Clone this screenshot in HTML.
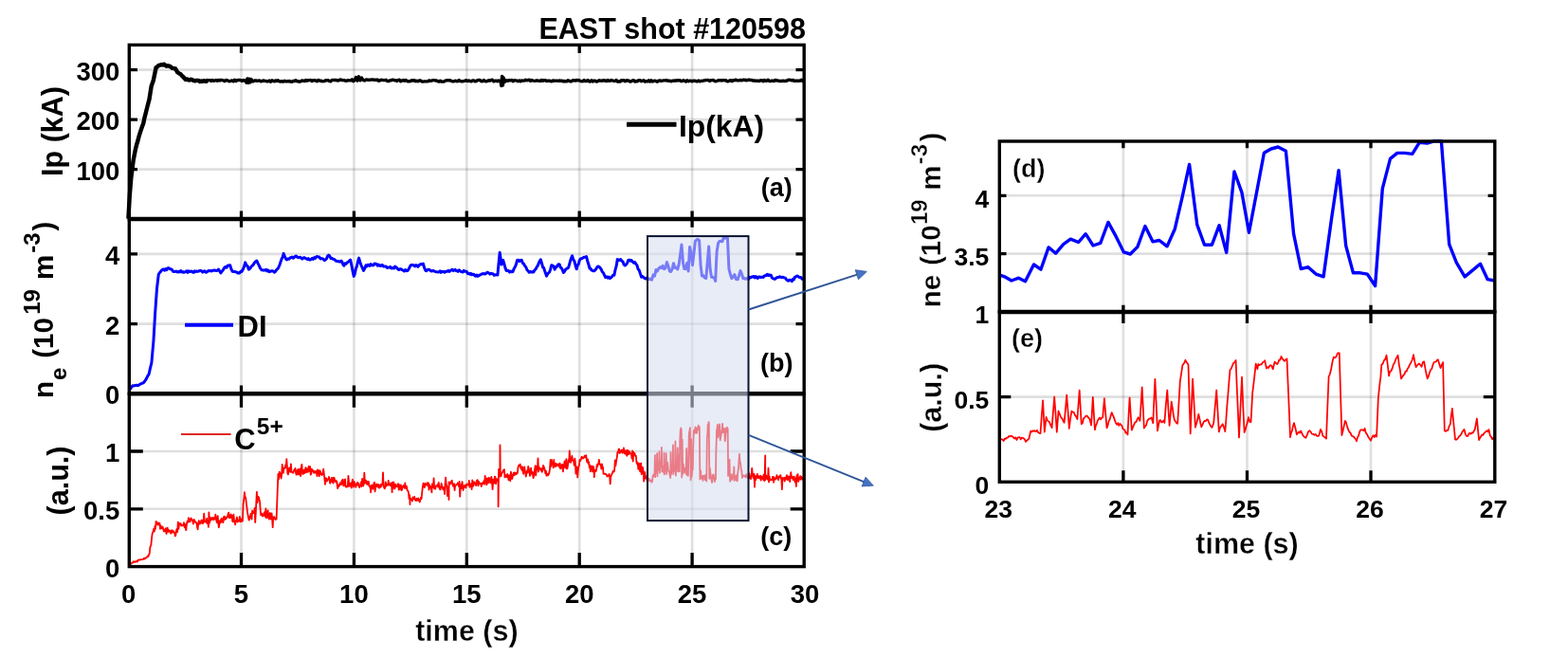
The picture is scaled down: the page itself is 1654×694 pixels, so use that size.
<!DOCTYPE html>
<html><head><meta charset="utf-8"><title>EAST shot #120598</title>
<style>
html,body{margin:0;padding:0;background:#fff;}
svg{display:block;}
text{font-family:'Liberation Sans',Arial,Helvetica,sans-serif;font-weight:bold;fill:#000;}
.th{stroke:#fff;stroke-width:0.35px;}
</style></head>
<body>
<svg width="1654" height="694" viewBox="0 0 1654 694">
<rect width="1654" height="694" fill="#fff"/>
<g stroke="#262626" stroke-opacity="0.15" stroke-width="2.6"><line x1="254.5" y1="47.4" x2="254.5" y2="231.1"/><line x1="373.4" y1="47.4" x2="373.4" y2="231.1"/><line x1="492.3" y1="47.4" x2="492.3" y2="231.1"/><line x1="611.2" y1="47.4" x2="611.2" y2="231.1"/><line x1="730.1" y1="47.4" x2="730.1" y2="231.1"/><line x1="136.3" y1="178.6" x2="848.2" y2="178.6"/><line x1="136.3" y1="126.1" x2="848.2" y2="126.1"/><line x1="136.3" y1="73.6" x2="848.2" y2="73.6"/></g>
<g stroke="#262626" stroke-opacity="0.15" stroke-width="2.6"><line x1="254.5" y1="231.1" x2="254.5" y2="415.2"/><line x1="373.4" y1="231.1" x2="373.4" y2="415.2"/><line x1="492.3" y1="231.1" x2="492.3" y2="415.2"/><line x1="611.2" y1="231.1" x2="611.2" y2="415.2"/><line x1="730.1" y1="231.1" x2="730.1" y2="415.2"/><line x1="136.3" y1="341.6" x2="848.2" y2="341.6"/><line x1="136.3" y1="267.9" x2="848.2" y2="267.9"/></g>
<g stroke="#262626" stroke-opacity="0.15" stroke-width="2.6"><line x1="254.5" y1="415.2" x2="254.5" y2="597.6"/><line x1="373.4" y1="415.2" x2="373.4" y2="597.6"/><line x1="492.3" y1="415.2" x2="492.3" y2="597.6"/><line x1="611.2" y1="415.2" x2="611.2" y2="597.6"/><line x1="730.1" y1="415.2" x2="730.1" y2="597.6"/><line x1="136.3" y1="536.8" x2="848.2" y2="536.8"/><line x1="136.3" y1="476" x2="848.2" y2="476"/></g>
<polyline fill="none" stroke="#000" stroke-width="4.4" stroke-linejoin="round" points="135.4,230.5 136.8,205.8 138.3,187.6 140.6,169.4 142.9,157.5 144.2,152.2 145.4,148.5 146.7,143.3 148.2,138.6 149.7,134.3 151.2,130.3 152.4,124.4 153.6,119.9 154.8,115 156.2,109.5 157.5,104.6 159.7,90.7 161.9,84.4 163.2,78 164.6,71.3 165.9,70.6 167.3,69.1 168.9,68.6 170.5,68.2 171.8,68.5 173.2,67.8 175.4,69.7 177,69.3 178.6,69.6 180.2,70.6 181.9,71.9 183.5,72.2 185.1,72.5 187.3,76.3 188.9,77.4 190.5,78.2 192.1,80.1 193.7,81.5 195.9,84.1 197.3,83.4 198.8,84.4 200.2,84.5 201.5,83.6 202.9,84.3 204.2,84.9 205.6,85.3 206.9,84.9 208.2,84.9 209.5,85 210.8,86.1 212.1,85.5 213.4,85.8 214.7,85.2 216.1,85.5 217.4,85.9 218.7,84.9 220,85.6"/>
<polyline fill="none" stroke="#000" stroke-width="3.4" stroke-linejoin="round" points="220,84.9 221.3,84.6 222.6,85.4 223.9,84.5 225.2,85.2 226.6,85 227.9,84.5 229.2,85.2 230.5,84.4 231.8,85 233.1,84.4 234.4,84.5 235.7,85 237,85.6 238.3,84.5 239.7,84.7 241,85.3 242.3,85.8 243.6,85.2 244.9,84.9 246.2,85.8 247.5,84.3 248.8,85.6 250.1,84.7 251.4,84.5 252.8,84.4 254.1,84.7 255.4,85.5 256.7,84.5 258,85.1 259,85 260,87.3 261,83 262,87.5 263,83.2 264,86.8 265,83.6 266.3,85.8 267.2,85.7 268.5,85 269.8,84.9 271.1,85.3 272.4,85.1 273.8,84.9 275.1,85.7 276.4,85.6 277.7,84.9 279,85.4 280.3,85.4 281.6,85.9 282.9,85.7 284.2,85 285.6,86.2 286.9,84.8 288.2,85.3 289.5,85.9 290.8,84.9 292.1,85.5 293.4,84.8 294.8,85.8 296.1,86 297.4,85.7 298.7,86.2 300,85.3 301.3,85.9 302.6,85.7 304,85.7 305.3,85.5 306.6,86.1 307.9,86.2 309.2,85.4 310.6,85.7 311.9,84.7 313.2,85.7 314.5,85.6 315.9,86.2 317.2,85.9 318.5,85 319.8,85.1 321.1,85.6 322.5,84.5 323.8,85.2 325.1,84.7 326.4,84.6 327.8,84.5 329.1,85.6 330.4,84.6 331.7,84.8 333,85 334.4,85.7 335.7,84.4 337,85 338.3,85.2 339.6,85.7 341,85.6 342.3,85.6 343.6,84.7 344.9,84.9 346.2,84.7 347.6,85.6 348.9,85.7 350.2,84.4 351.5,84.4 352.9,84.5 354.2,84.4 355.5,84.8 356.8,85 358.1,84.4 359.5,84 360.8,84.6 362.1,84.6 363.4,84.8 364.8,85.4 366.1,85 367.4,84.7 368.7,84.9 370,84.9 371.4,83.9 372.7,85.7 374,84.8 375.5,81.5 377,85.2 378.5,80.8 380,84.8 381.5,82 383,84.5 384.5,85 386.3,83.9 387.6,84.2 388.9,84.1 390.2,84.4 391.5,84 392.8,83.9 394.1,84.2 395.4,84.1 396.7,84.5 398,84 399.3,85.4 400.6,85 401.9,84.2 403.2,84.4 404.5,84.6 405.8,84.6 407.1,84.3 408.4,85.4 409.7,85.7 411,84.9 412.3,84.9 413.6,84.3 414.9,84.3 416.2,84.7 417.5,84.6 418.8,85.5 420.1,84.5 421.4,84.3 422.7,85.8 424,85.1 425.3,84.5 426.6,85.2 427.9,84.4 429.2,85.2 430.5,85.9 431.8,85.8 433.1,85.5 434.4,84.8 435.7,85 437,84.7 438.3,85.7 439.6,85.3 440.9,85.7 442.2,85 443.5,84.9 444.8,85.8 446.1,86.1 447.4,85.9 448.7,85.9 450,85.9 451.3,85.8 452.6,84.9 453.9,85.4 455.2,85.1 456.6,84.6 457.9,84.6 459.2,85 460.5,85 461.8,85.6 463.1,86.1 464.4,85.2 465.7,86 467,86.1 468.3,86 469.7,85.1 471,84.8 472.3,84.8 473.6,84.8 474.9,84.8 476.2,85.5 477.5,85.9 478.8,85.8 480.1,85.2 481.4,85.5 482.8,85.7 484.1,84.6 485.4,85.5 486.7,85.9 488,85.7 489.3,85.6 490.6,85.2 491.9,84.7 493.2,85.6 494.6,84.9 495.9,85.6 497.2,85.9 498.5,85 499.8,85 501.1,85.8 502.4,85.5 503.7,84.6 505,84.5 506.3,84.5 507.7,85.7 509,85.6 510.3,84.5 511.6,85.6 512.9,85.8 514.2,85.3 515.5,84.8 516.8,85.1 518.1,84.5 519.4,84.3 520.8,85.8 522.1,85.3 523.4,85.1 524.7,85.7 526,84.9 527.3,85.6 528,85.5 528.8,90.5 529.6,80.5 530.4,90 531.2,82 532.2,86.5 534,84.8 535.5,85.3 537,84.7 538.5,84.9 540,84.4 541.3,85.7 542.6,84.8 543.9,84.9 545.2,85.1 546.6,85.7 547.9,84.9 549.2,85.7 550.5,85 551.8,85.1 553.1,85.1 554.4,84.3 555.7,84.9 557,84.5 558.4,84.3 559.7,85.5 561,84.5 562.3,85 563.6,85.4 564.9,85.2 566.2,84.8 567.5,85.1 568.9,85.2 570.2,85.5 571.5,84.4 572.8,85.2 574.1,84.7 575.4,84.7 576.7,85.5 578,85.1 579.3,85.2 580.7,85.5 582,85.8 583.3,85 584.6,85.3 585.9,85.1 587.2,85.1 588.5,85.4 589.8,85 591.1,85.2 592.5,85.1 593.8,85.8 595.1,85.5 596.4,85.7 597.7,85.9 599,84.8 600.3,85.2 601.6,85.9 603,85.7 604.3,84.6 605.6,84.6 606.9,85.1 608.2,84.5 609.5,84.8 610.8,84.5 612.1,85.5 613.4,85.6 614.8,85.8 616.1,84.6 617.4,85.5 618.7,85.5 620,84.6 621.3,85.8 622.6,86 623.9,84.8 625.2,85.9 626.6,85.1 627.9,85.2 629.2,86 630.5,85.8 631.8,84.7 633.1,85.1 634.4,85.3 635.7,85 637,84.8 638.4,85 639.7,85.6 641,84.5 642.3,85.4 643.6,85.2 644.9,84.5 646.2,85 647.5,85.5 648.9,85.3 650.2,84.6 651.5,86.1 652.8,85.8 654.1,86.1 655.4,84.7 656.7,85 658,84.6 659.3,85.8 660.7,85 662,84.8 663.3,85.2 664.6,86 665.9,85.9 667.2,85 668.5,84.8 669.8,86.1 671.1,85.5 672.5,85.7 673.8,84.7 675.1,84.7 676.4,85.7 677.7,85.3 679,84.7 680.3,86.1 681.6,85.6 683,85.9 684.3,84.8 685.6,86 686.9,84.8 688.2,86 689.5,85.4 690.8,85.2 692.1,85.6 693.4,86.2 694.8,85.1 696.1,84.9 697.4,85.5 698.7,85.1 700,84.9 701.3,84.9 702.6,84.8 703.9,85 705.2,85.2 706.6,85.1 707.9,85.9 709.2,85.1 710.5,85.4 711.8,84.9 713.1,85.2 714.4,84.6 715.7,85 717,84.6 718.4,85.7 719.7,85.4 721,84.8 722.3,85.3 723.6,86 724.9,84.7 726.2,85.8 727.5,85.2 728.9,85.3 730.2,85.8 731.5,85.1 732.8,85.3 734.1,85.5 735.4,86 736.7,85 738,85.7 739.3,85.5 740.7,85.4 742,85 743.3,84.9 744.6,84.5 745.9,84.6 747.2,84.5 748.5,85.5 749.8,84.7 751.1,84.6 752.5,84.4 753.8,85.6 755.1,85.7 756.4,85.3 757.7,84.7 759,84.6 760.3,84.7 761.6,85 763,84.5 764.3,84.9 765.6,84.6 766.9,85.7 768.2,85.7 769.5,85.1 770.8,84.6 772.1,85.7 773.4,84.6 774.8,84.7 776.1,84.1 777.4,84.7 778.7,84.9 780,84.9 781.3,84.4 782.6,84.9 783.9,84.1 785.2,84.5 786.6,84.3 787.9,84.8 789.2,84.2 790.5,84.2 791.8,84.6 793.1,84.5 794.4,85.1 795.7,85 797,85.3 798.4,85.2 799.7,85.3 801,85.5 802.3,84.8 803.6,84.7 804.9,85.7 806.2,84.4 807.5,85.3 808.9,85.2 810.2,84.2 811.5,85.5 812.8,85.6 814.1,85.2 815.4,85.3 816.7,85.5 818,84.4 819.3,85 820.7,85 822,85.5 823.3,85.5 824.6,85.5 825.9,85.1 827.2,85.6 828.5,85.3 829.8,85.3 831.2,84.5 832.5,84.2 833.8,84.4 835.1,84.8 836.4,84.4 837.7,85.5 839,85.1 840.3,85.2 841.6,85.2 843,85.3 844.3,85 845.6,84.2 846.9,85.5 848.2,85.4"/>
<polyline fill="none" stroke="#0000ff" stroke-width="3.0" stroke-linejoin="round" points="136,411.8 137.3,410.4 138.5,408.7 139.8,406.7 140.8,407.1 141.8,406.7 142.9,406.4 143.9,406.3 144.9,406.5 145.9,406.4 146.9,405.7 148,405.1 149,404.7 150,404.2 151.1,403.9 152.1,402.9 153.3,401.2 154.6,399.1 155.8,396.5 157,394.9 158.4,388.6 159.9,382.6 160.9,371.2 161.9,360.2 163.6,330.8 165.5,304.2 167.3,289.3 168.3,287.7 169.4,286.6 170.4,285.1 171.5,284.3 172.5,284 173.6,285.1 174.6,283.7 175.7,284.7 176.7,282.9 177.8,282.6 179,283.7 180.2,283.7 181.5,284.6 182.7,286.4 183.7,286.4 184.7,286.4 185.7,286.1 186.7,286.8 187.7,287 188.7,286.3 189.7,286.8 190.7,285.5 191.7,287 192.7,286.6 193.7,287.3 194.8,287.1 195.8,286.3 196.8,285.8 197.9,287.5 198.9,285.9 200,286.5 201.1,286.2 202.1,286.1 203.2,287 204.2,287.4 205.2,285.9 206.3,286.7 207.3,285.9 208.4,286.4 209.5,286.1 210.5,285.6 211.6,285.6 212.6,285.7 213.7,287.1 214.7,286.3 215.8,285.7 216.8,287.1 217.8,287.3 218.9,286.2 219.9,285.6 221,285.7 222,285.5 223.1,286 224.2,285.2 225.2,285.2 226.3,285 227.3,285.3 228.4,285.6 229.4,285.1 230.5,284.1 231.7,286 232.9,288 234.1,286.2 235.4,284.6 236.6,282.5 237.8,281.5 239,282.2 240.2,279.9 241.5,280 242.7,279.7 243.9,283.8 245.2,286.2 246.3,286.4 247.4,286.4 248.5,286.8 249.6,286.9 250.6,288 251.7,287.8 252.8,287.9 253.9,286.3 255,286.4 256.2,284.3 257.5,281.2 258.7,276.9 259.9,279.6 261.2,280.9 262.4,284.1 263.6,283.5 264.8,281.7 266,280.1 267.2,279.4 268.4,277 269.7,275.8 270.9,275 272.1,277.9 273.4,280.4 274.6,283 275.8,284.7 276.8,284.8 277.9,285.2 278.9,284.8 280,285.2 281,284.3 282,286 283.1,285.1 284.1,286.7 285.1,286.3 286.2,285.8 287.2,285.7 288.3,286.1 289.3,287.1 290.5,286.4 291.8,284.4 293,283.4 294,281.7 295,279.2 296.1,276.1 297.1,273.1 298.1,271.3 299.1,267.4 300.4,270.5 301.6,273.2 302.7,273.9 303.8,273 304.9,273.2 306,272.1 307,271.4 308.1,271.1 309.2,272.3 310.3,271.5 311.4,270.4 312.5,270 313.5,271.2 314.6,271.7 315.7,271.4 316.8,271.3 317.9,272.3 318.9,273.1 320,271.9 321,271.6 322.1,272.4 323.1,272.8 324.2,273.5 325.2,272.7 326.3,274 327.3,274.1 328.4,273.2 329.4,272.3 330.4,273.4 331.5,271.7 332.6,272.4 333.6,270.8 334.6,270.4 335.7,271.1 336.8,270.9 337.9,272.9 339,272.7 340.2,272.8 341.3,273.5 342.4,274.6 343.4,273.8 344.5,272.9 345.6,270 346.6,269.1 347.8,270 349,272.7 350.2,272.3 351.4,273.3 352.5,273.5 353.5,274.3 354.6,275.4 355.6,275.6 356.7,275.4 357.8,276.1 358.8,276.1 359.9,275.1 360.9,276.2 361.9,279.1 362.9,280.1 364,277.9 365.1,278.3 366.2,277 367.4,276.1 368.5,275.3 369.6,274.1 370.8,279.4 372,285.6 373.2,291.4 374.3,288.8 375.4,283.2 376.4,281 377.5,275.7 378.6,272.1 379.8,276.5 381.1,280 382.3,282.7 383.5,285.4 384.7,283.2 385.9,279.9 386.9,280.9 387.9,279.3 388.9,279.5 389.9,280.5 391,278.6 392,279.2 393,279.9 394,279.7 395,278.1 396.1,278.2 397.1,278.4 398.2,280.2 399.3,279 400.3,280.2 401.4,280.6 402.5,279.6 403.5,279.6 404.6,281.1 405.8,281 407.1,280.9 408.3,282.4 409.5,282.2 410.5,282.1 411.6,281.4 412.6,282.9 413.6,283.1 414.6,282.4 415.7,283 416.7,281 417.8,281.9 418.8,282.7 419.9,284.1 420.9,284.5 422,283.7 423.1,283.8 424.1,284.6 425.2,285.1 426.4,286 427.6,284.5 428.8,285.7 430,285.6 431,283.9 432.1,282 433.1,279.8 434.2,279.4 435.3,279.6 436.4,279.8 437.6,280.9 438.7,279.6 439.8,280 440.9,281.3 442,279.8 443.1,279 444.2,278.4 445.3,279 446.4,278.1 447.6,282.4 448.8,285.3 449.8,285.7 450.9,284.4 451.9,284.2 452.9,284.4 454,285.4 455,286 456,285.7 457,285.4 458.1,286 459.1,286.5 460.1,286.7 461.1,286.9 462.1,287.1 463.1,286.8 464.1,285.8 465.1,287.3 466.1,286.2 467.1,286.8 468.1,286.5 469.1,287.3 470.1,286.2 471.1,286.4 472.1,286 473.1,285.4 474.1,286.5 475.2,285.5 476.2,284.6 477.2,284.3 478.2,285.6 479.2,284.8 480.2,284.4 481.2,285.7 482.2,285.6 483.2,286.4 484.3,284.8 485.3,285.6 486.3,286.5 487.3,286.7 488.3,287 489.3,285.4 490.3,286.2 491.4,286.2 492.4,286.7 493.4,288.6 494.5,288.2 495.5,289.2 496.6,288.4 497.6,289.8 498.6,289.3 499.7,289.2 500.7,290.6 501.7,291.3 502.8,290 503.8,291.3 504.9,291 506,289.9 507,289.8 508.1,289 509.2,288.8 510.3,288.6 511.3,289 512.4,288.7 513.5,287.5 514.6,287.3 515.7,288.2 516.8,289.1 517.8,288.3 518.9,288.7 520,288.7 521.2,290.3 522.5,290.1 523.7,289.6 524.9,290 526,278.2 527.2,266.2 529,279 530.7,274.5 531.8,278.1 533,282.6 534.1,285.4 535.2,285.4 536.4,285.6 537.5,287.1 538.7,286 539.9,286.7 541,286.5 542.1,283.6 543.3,281.5 544.5,278.7 545.6,274.4 546.8,274.2 547.9,275.5 549.1,274.6 550.2,274.3 551.4,277.6 552.5,278.2 553.7,280.5 554.8,281.7 556,284.7 557.1,285.8 558.2,287.2 559.4,286.5 560.5,287.1 561.7,286.8 562.8,286.9 564,284.8 565.1,283.9 566.3,281.5 567.4,279.9 568.8,276.3 570.3,273.7 571.5,277.6 572.6,281.9 573.6,282.5 574.6,285.6 575.6,288.5 576.6,291.1 578,288.4 579.5,287.2 580.6,284.2 581.8,279.7 582.9,280.2 584.1,280.9 585.2,284.2 586.2,281.8 587.2,281.5 588.3,279.6 589.3,278.7 590.3,279.2 591.3,282.2 592.4,282.8 593.4,284.9 594.4,287.5 595.4,286.5 596.5,284.3 597.5,283.5 598.6,282.9 599.6,282.2 600.6,278.8 601.6,275.1 602.6,272.2 603.6,269.9 604.8,273.7 605.9,275.5 607.1,280 608.2,283.8 609.2,279.8 610.2,278.8 611.2,274.8 612.2,273.2 613.3,272.7 614.3,272.5 615.4,271.5 616.5,271.3 617.5,271.2 618.6,270.6 619.7,275.2 620.9,279 622,283.2 623,283.1 624,285 625,285.5 626,285.7 627,285.7 628.1,284.7 629.1,283 630.2,281.4 631.2,280.9 632.7,282 634.1,283.8 635.2,286.4 636.4,287.7 637.6,290.4 638.7,292.5 639.9,291.7 641,293.1 642.1,292.1 643.3,293.6 644.4,292.9 645.6,291.7 646.8,290 647.9,290.2 649,284.6 650.2,280.4 651.3,273.4 652.4,274.4 653.6,274.4 654.7,273.5 655.9,275.4 657,275.8 658.1,279.1 659.3,279.9 660.4,279.2 661.6,277.5 662.8,274.4 663.9,274.1 665.1,275.3 666.2,274.6 667.4,276.1 668.5,277.3 669.7,276.5 670.8,278.4 672,279.9 673.1,283.8 674.3,285.2 675.4,288.6 676.6,292.2 677.8,291.6 678.9,292.5 680.1,293.7 681.2,294.1 682.5,292.9 683.5,293.5 684.8,294.8 686.2,294.1 687.5,295.2 689.1,289.9 690.5,291.2 692,284.4 693.3,286.1 694.8,283.3 696.2,281.7 697.7,282.7 699.1,280.2 700.5,283.8 701.9,283 703.4,276.5 704.9,280.7 706.4,286 707.7,286.5 709,284.1 710.5,277.7 712,282.4 713.2,282.2 714.7,284 716.2,278.5 717.6,268.6 719,258 720.5,277.1 721.9,283.6 723.3,283.4 724.8,277.4 726.1,285.9 727.6,260.4 729.1,267 730.5,279.7 732,266.6 733.4,254.3 734.7,253 736.1,252.4 737.6,253.7 739.1,280.1 740.5,291.1 741.8,290.6 743.3,292.9 744.8,293.5 746.3,275.7 747.7,260 749.1,283.6 750.5,292.2 751.9,292.4 753.2,292.7 754.7,296.5 756.1,265.6 757.6,256.3 759,254.5 760.4,254.3 761.9,254.8 763.2,251.1 764.7,251.2 766.1,250.8 767.4,250.6 768.9,283.3 770.3,289 771.9,293.7 773.4,291.7 774.9,289.6 776.3,294.4 777.7,294.8 778.2,294.7 779.6,290.4 781,285.6 782.5,289.2 783.9,293.7 785.1,293.3 786.3,294.3 787.5,293.9 788.5,293 789.6,294.5 790.8,292.3 791.9,292.8 793.1,292 794.1,291.7 795.1,291.5 796.1,293 797.2,291.5 798.2,292.7 799.2,293.5 800.2,292 801.2,291.9 802.2,292.6 803.2,292.2 804.2,292.3 805.2,292.5 806.2,291 807.2,290.8 808.2,290.3 809.3,289.3 810.3,290.5 811.3,289.8 812.3,290.6 813.3,290.2 814.3,292.9 815.3,293.7 816.3,294.1 817.3,294.4 818.3,293.6 819.3,292.9 820.4,292.4 821.4,292.4 822.4,291.8 823.4,292.1 824.4,292.7 825.4,292.3 826.4,292.4 827.4,293.1 828.5,293.2 829.5,294.8 830.5,295.6 831.5,296.3 832.5,295.7 833.5,295.2 834.5,296 835.5,296.6 836.5,294.3 837.5,294.8 838.5,292.2 839.6,291.9 840.6,291 841.6,291.2 842.7,292.3 843.8,292.6 844.9,292.5 846,294.3 847.1,293.9 848.2,294.5"/>
<polyline fill="none" stroke="#ff0000" stroke-width="1.8" stroke-linejoin="round" points="136,596.9 136.6,597 137.2,596.5 137.8,595.1 138.3,594 138.9,593.9 139.5,593.4 140.1,593.5 140.6,592.3 141.2,592.1 141.7,592.8 142.3,592.5 142.8,592.8 143.4,592.3 144,591.7 144.5,591.4 145.1,592.5 145.6,591 146.2,590.6 146.7,590.3 147.3,590.6 147.9,590.5 148.5,590.2 149,590.1 149.6,590.2 150.2,590.2 150.8,590.2 151.3,589.7 151.9,588.7 152.5,589.6 153,588.5 153.6,589 154.2,588.2 154.8,588 155.4,586.8 155.9,586.4 156.5,586.9 157.1,584.5 157.7,584.1 158.3,577.4 158.8,576.1 159.4,574.7 160.1,567 160.8,562 161.5,560.9 162.1,557.9 162.8,560.7 163.4,554.9 164,557.8 164.6,549.8 165.2,552.6 165.9,551.3 166.5,553.7 167.2,551.4 167.8,552.9 168.4,551.8 169,557.9 169.7,554.4 170.3,556.7 170.9,557.4 171.5,555.6 172.1,557.1 172.7,560.2 173.2,560.5 173.8,558.8 174.4,560.2 174.9,557.2 175.5,563 176.1,560.8 176.7,556.6 177.2,559.6 177.8,561 178.4,559.3 179,560.4 179.6,559.8 180.1,562.7 180.7,562.2 181.3,559.2 181.9,560.5 182.4,561.2 183,560.1 183.6,561.6 184.2,562 184.7,565.3 185.3,564.9 185.9,559.8 186.5,558 187.1,561.1 187.8,550.6 188.4,557.9 189,553.1 189.6,552 190.2,552.7 190.7,552.1 191.3,554.7 191.8,553.7 192.4,554.4 192.9,554.2 193.5,553.4 194,551.2 194.6,556.2 195.1,553 195.7,557.2 196.3,559.2 197,552 197.7,549.6 198.3,550.9 198.9,546.1 199.4,550.1 200,547.6 200.5,550.4 201.1,547.4 201.6,546.5 202.2,548.1 202.8,549 203.3,549.3 203.9,552.6 204.4,547.9 205,548.5 205.5,549.6 206.1,550.9 206.7,550.7 207.3,551.9 207.9,555.1 208.6,558.4 209.2,551.6 209.8,549.1 210.4,552.6 211,551 211.6,552.2 212.2,549.2 212.8,548.5 213.4,551.4 214,552.1 214.6,551.6 215.2,541.7 215.8,549.3 216.4,550.4 217,549.5 217.6,551 218.1,547 218.7,552.3 219.3,548.9 219.9,555.9 220.4,540.3 221,551.5 221.6,548 222.2,546 222.7,548.6 223.3,547.3 223.9,546.1 224.5,545.9 225,548.3 225.6,546.1 226.2,547.1 226.8,547.6 227.3,542.7 227.9,546.5 228.5,550.1 229.1,551.4 229.7,544.1 230.2,550.4 230.8,556.3 231.4,552.4 232,549.1 232.5,551.5 233.1,547.9 233.7,546.8 234.3,550.7 234.8,547.5 235.4,551.2 236,545.2 236.6,544.7 237.1,548 237.7,545.6 238.3,547.3 238.9,546.6 239.4,545 240,545.2 240.6,541.6 241.2,540.6 241.8,546.3 242.3,544.4 242.9,546 243.5,542.3 244.1,546 244.7,543.7 245.2,549.8 245.8,550.4 246.4,542.7 247,548.2 247.6,550.1 248.1,553.3 248.7,548.8 249.3,548.9 249.9,545.5 250.5,550.7 251.1,549.4 251.7,549.9 252.3,547.7 252.9,545 253.5,550.3 254.1,548.2 254.7,550.2 255.3,546.6 255.9,549.7 256.6,531.3 257.2,527.5 257.9,519.1 258.5,523.9 259.2,524.8 259.9,531.6 260.5,535.7 261.1,540.8 261.6,543.4 262.2,547.1 262.8,548.6 263.3,544.8 263.9,546.1 264.4,542 264.9,543.1 265.5,547.6 266.1,538.7 266.6,540.5 267.2,541.1 267.9,541.1 268.6,536 269.2,551 269.8,541.3 270.3,530 270.9,518.9 271.5,530.1 272.2,523.6 272.9,524.5 273.5,526.9 274.1,529.3 274.6,537 275.2,543.3 275.8,541.4 276.4,542 276.9,544.6 277.5,544.2 278.1,543.7 278.7,540.3 279.2,540.2 279.8,544.8 280.4,536.5 281,546.3 281.5,546.2 282.1,542 282.6,538.3 283.2,544.3 283.8,547.6 284.3,542.8 284.9,541 285.4,547.5 286,545.4 286.6,541.4 287.1,547 287.7,556.1 288.2,546 288.8,545.1 289.4,545.1 289.9,547.1 290.5,548.1 291,547.1 291.6,547.6 292.2,531.8 292.8,515.9 293.4,500 294,505.6 294.7,497.6 295.4,499.2 296,501.7 296.6,504.5 297.1,500.3 297.7,490 298.3,496.2 298.8,498.9 299.4,494 300,493.3 300.5,494.1 301.1,490.6 301.7,492.8 302.3,484.1 302.8,490.6 303.4,499.7 304,500.4 304.6,496.3 305.1,493.4 305.7,495 306.3,497.8 306.9,489.5 307.5,496.8 308,498.1 308.6,498.1 309.2,498.9 309.8,497.4 310.3,495.6 310.9,495 311.5,494 312.1,499.1 312.6,500.7 313.2,496.3 313.8,500.3 314.4,494.9 314.9,496.9 315.5,500.6 316.1,494.9 316.7,494.6 317.2,502.1 317.8,492.6 318.4,490 319,497.8 319.5,500.1 320.1,499 320.7,495.6 321.3,499 321.8,497.1 322.4,493.1 323,498.3 323.6,494.4 324.2,495.7 324.8,497.9 325.3,493.4 325.9,491.8 326.5,497 327.1,492.2 327.7,500.7 328.3,499.6 328.8,494.7 329.4,496 330,497.1 330.6,496.2 331.1,498.8 331.7,498.2 332.2,497.1 332.8,498.6 333.4,496.8 333.9,498.4 334.5,502.2 335,495.3 335.6,498.5 336.1,496.2 336.7,502.3 337.3,496.3 337.8,496.9 338.4,499.9 338.9,499.4 339.5,501.1 340.1,500.6 340.7,497.5 341.2,494.6 341.8,500.1 342.4,505.1 343,510.8 343.6,504.2 344.2,504.6 344.7,507.5 345.3,507.1 345.9,505.3 346.5,505.1 347,502.9 347.6,506.1 348.2,509.9 348.7,506.2 349.3,506.4 349.9,503.8 350.4,508.7 351,504.5 351.6,509.7 352.1,503.6 352.7,504.3 353.2,507.3 353.8,506.8 354.4,508.6 354.9,507.2 355.5,509.1 356.1,515.2 356.6,514 357.2,511.3 357.8,512.7 358.3,511.2 358.9,509.2 359.5,509.7 360,511.1 360.6,506.7 361.2,509.8 361.7,505.6 362.3,512.3 362.9,512.2 363.4,508.8 364,505.5 364.6,513.1 365.1,513.7 365.7,512.6 366.2,512.9 366.8,513.4 367.4,501.8 367.9,506.9 368.5,512.8 369.1,509.6 369.6,512.6 370.2,509.6 370.8,514.6 371.3,509.2 371.9,505.6 372.5,509.7 373,513.7 373.6,508 374.2,511.1 374.7,510.3 375.3,513.9 375.9,510.3 376.4,511.6 377,508.8 377.6,511.6 378.1,509.6 378.7,513.1 379.2,514.2 379.8,512.3 380.4,511.5 380.9,508.5 381.5,513.1 382.1,505 382.6,511.8 383.2,512.5 383.8,510.5 384.3,498.6 384.9,509.3 385.5,506.8 386,506.7 386.6,510.5 387.1,507.8 387.7,509.9 388.3,511.5 388.8,507.8 389.4,511.5 389.9,513.4 390.5,512.9 391.1,519.3 391.6,512.5 392.2,511.5 392.8,512.7 393.3,515.9 393.9,513.7 394.4,509.5 395,508.8 395.6,518.4 396.1,513.9 396.7,512.4 397.2,510.5 397.8,512.1 398.4,513.6 398.9,510.8 399.5,511.6 400.1,514.8 400.6,514.1 401.2,511.5 401.8,513.5 402.3,510.7 402.9,511.3 403.5,510.5 404,498.3 404.6,513.4 405.1,513.7 405.7,515.4 406.3,514.1 406.8,508.4 407.4,512.7 408,510.9 408.5,511.4 409.1,511.5 409.7,507 410.2,511.7 410.8,511.4 411.4,511.7 411.9,509.6 412.5,512.6 413,509.6 413.6,519.1 414.1,508.6 414.7,514.8 415.2,508.3 415.8,512.3 416.3,515.7 416.9,510.7 417.4,513.5 418,513.2 418.5,512.3 419.1,513.2 419.6,510.6 420.2,510.2 420.7,516.7 421.3,511.5 421.8,514 422.4,515.9 422.9,511.4 423.5,517.2 424,516.8 424.6,513.1 425.1,513.8 425.7,511.9 426.2,512.2 426.8,514.9 427.3,509.5 427.9,514.8 428.4,512.7 429,513.1 429.6,517.3 430.2,517.4 430.9,519.1 431.5,525.9 432.1,522.1 432.5,532 432.6,525.2 433.2,525.9 433.8,527 434.3,527 434.9,528.5 435.5,524.5 436,526.3 436.6,525.9 437.2,523.9 437.7,527.2 438.3,526.6 438.8,528.2 439.4,525.9 440,527.5 440.5,527.5 441.1,525.4 441.7,528.2 442.2,527.1 442.8,529.5 443.4,526.7 443.9,524.8 444.5,526.1 445.2,519.8 445.8,513.9 446.5,509.6 447.1,512.5 447.8,514.2 448.4,509.9 449.1,511.9 449.7,510.7 450.3,511.1 450.8,509.2 451.4,512.7 452,509.5 452.5,516.6 453.1,511.5 453.7,514.4 454.2,514.8 454.8,513.3 455.4,519.4 455.9,510.3 456.5,514.2 457,513.5 457.6,504.4 458.2,515.5 458.7,513.8 459.3,515.7 459.9,512.4 460.4,512.4 461,512.1 461.6,511.3 462.1,513.7 462.7,508.8 463.3,513.3 463.8,515.5 464.4,516.4 465,514.4 465.6,510 466.1,512.1 466.7,513.7 467.3,516.4 467.9,514.1 468.4,514.3 469,521.2 469.6,509.8 470.1,503.6 470.7,510.6 471.3,511.9 471.9,523 472.4,514.4 473,513.5 473.5,527 473.6,508.5 474.3,509.2 475,510.5 475.6,508.3 476.2,507.5 476.7,506.8 477.3,510.8 477.9,512.7 478.4,512.9 479,510.2 479.6,517.1 480.1,511.8 480.7,512.2 481.3,511.1 481.8,510.9 482.4,510.6 482.9,509.3 483.5,511 484.1,513.3 484.6,507.8 485.2,523.8 485.8,514.7 486.3,511.1 486.9,515 487.5,508.1 488,512.8 488.6,517 489.2,512.5 489.7,513.9 490.3,511.9 490.9,513.6 491.4,514.5 492,511 492.6,510.5 493.1,511.6 493.7,510.9 494.3,511.3 494.8,507 495.4,513.9 495.9,510 496.5,511.7 497.1,511 497.6,516.2 498.2,506.5 498.8,511.8 499.3,512.7 499.9,508.2 500.5,508.9 501,510.4 501.6,510.8 502.2,512.1 502.7,507.1 503.3,509.3 503.8,506.2 504.4,512.3 505,507.8 505.5,509.1 506.1,510.2 506.6,509.6 507.2,510.2 507.8,513 508.3,511.6 508.9,509.2 509.4,510 510,509.7 510.6,506.8 511.1,510.8 511.7,501.8 512.2,507 512.8,507.5 513.3,511.4 513.9,504.4 514.5,509.1 515,509.5 515.6,504 516.1,507.2 516.7,504.5 517.2,509.3 517.8,509 518.4,502.9 519,509 519.6,516.1 520.2,505.7 520.8,506.2 521.3,509.7 521.9,502.6 522.5,503.2 523.1,510.3 523.7,505.7 524.3,505.2 524.9,507.4 525.5,506.8 525.6,534.3 526.1,494.8 526.7,503.1 527.3,499.4 527.5,469.5 527.8,501.5 528.4,502.2 529,499.9 529.6,498.8 530.2,498 530.8,496.1 531.4,496.4 531.9,495.1 532.5,503.4 533.1,500.8 533.6,501.9 534.2,503.2 534.8,501.4 535.3,500 535.9,502.4 536.5,506.4 537.1,501.4 537.7,505.7 538.3,507.3 538.9,497.6 539.4,500.1 540,505.1 540.6,503.6 541.2,501 541.8,498.6 542.4,501.1 543,498.4 543.6,500.7 544.1,498.6 544.7,499.9 545.3,499.5 545.9,498.9 546.4,493.5 547,491.1 547.6,490.7 548.2,491.2 548.7,489.6 549.3,493.9 549.8,493.5 550.4,495.8 550.9,492.1 551.5,497.1 552.1,499.8 552.6,495.8 553.2,492.5 553.7,495.8 554.3,499.3 554.8,502.7 555.4,498.9 556,496.5 556.6,498.6 557.2,491.9 557.8,494.3 558.4,496.9 558.9,501.9 559.5,501.1 560.1,493.7 560.7,499.3 561.3,497.6 561.9,498.8 562.5,504.2 563,503 563.6,497.3 564.1,495.1 564.7,491.1 565.2,501.4 565.8,497 566.4,491.6 566.9,495.2 567.5,483.4 568,497.5 568.6,492.5 569.1,494.9 569.7,494 570.3,494.6 570.8,496.5 571.4,494.2 571.9,497.8 572.5,496.1 573,490.8 573.6,492.1 574.2,493.8 574.7,495.7 575.3,499.3 575.9,496.6 576.4,501.6 577,501.6 577.6,499.6 578.1,501.3 578.7,500.5 579.4,498.4 580,494.8 580.6,485.2 581.3,491.9 581.9,484.8 582.5,488.8 583.1,488.4 583.7,493.3 584.3,485 584.8,492.4 585.4,489.6 586,488.7 586.6,491.8 587.2,489.4 587.8,491.2 588.4,490.1 588.9,489.5 589.5,489.5 590,492.7 590.6,488.7 591.1,494.4 591.7,494.2 592.3,490.6 592.8,490 593.4,489.9 593.9,497.4 594.5,490.2 595,491.2 595.6,486.3 596.2,493.6 596.8,490.9 597.3,484.2 597.9,494.5 598.5,493.8 599.1,490 599.6,484.9 600.2,487.5 600.8,475.3 601.4,485 602.1,487.9 602.8,483.9 603.4,480.9 604,485.7 604.6,485.7 605.1,485.9 605.7,490.8 606.3,483.6 606.9,487.9 607.4,499.6 608,492.5 608.6,492.5 609.2,503.5 609.8,496.6 610.3,492.5 610.9,491 611.5,485 612.1,486 612.6,485.4 613.2,482.9 613.8,481.7 614.4,483.2 614.9,483.5 615.5,482.9 616,482.6 616.6,480.7 617.1,482.4 617.7,480.8 618.3,480.3 618.8,485.5 619.4,487.4 620,484.3 620.5,489 621.1,487.1 621.7,493.1 622.2,490.7 622.8,497.3 623.4,492.3 624,491.5 624.5,493.9 625.1,497.4 625.7,491.9 626.3,493.4 626.8,503.1 627.4,495.9 628,496 628.6,497.1 629.1,495.4 629.7,490.2 630.2,492.2 630.8,489.7 631.3,488.6 631.9,484.8 632.5,489.6 633.1,490.2 633.7,490 634.3,494.6 634.9,489.4 635.4,491.6 636,493.1 636.6,499.9 637.2,499.4 637.8,499.8 638.4,500.2 639,499.8 639.6,500.4 640.2,502.1 640.8,502.5 641.4,502.1 641.9,501.5 642.5,500 643.1,501.9 643.7,510.4 644.3,502.3 644.9,501.7 645.5,499.7 646,499.2 646.6,496.9 647.1,496.7 647.7,497.6 648.2,495.5 648.8,485.3 649.4,491.3 650.1,486.3 650.8,482.4 651.4,476.8 652,477.8 652.6,473.6 653.2,473.7 653.8,478 654.4,475.8 655,476.8 655.5,474.7 656.1,474.6 656.7,477.9 657.3,476.6 657.9,472.4 658.5,476.6 659.1,478.6 659.6,477.2 660.2,475.1 660.8,480 661.3,480.7 661.9,474.8 662.4,474.8 663,479.3 663.6,478.3 664.2,476.2 664.8,478 665.4,478.6 666,479.6 666.5,483.5 667.1,475.5 667.7,486.5 668.3,476.8 668.9,478.9 669.5,478.1 670.1,480.8 670.8,480.6 671.5,488 672.1,489.5 672.7,487.8 673.3,494.9 673.9,494.4 674.5,488.9 675.1,497.3 675.6,497.6 676.2,488.6 676.8,500.1 677.4,499.2 678,492.9 678.6,497.3 679.2,507.7 679.7,500.4 680.3,498 680.8,504.6 681.4,502.4 681.9,503 682.5,505.8 682.5,506.8 683.3,507.9 683.9,505.9 684.7,504.8 685.2,507 685.8,507.5 686.8,506.5 687.6,508.7 688.2,506.7 688.5,502.6 689.3,500.5 689.8,502.4 690.4,502 690.9,480.1 691.2,503.2 691.5,492.8 692.1,494.5 692.6,498.9 693.1,478.2 693.5,502.3 693.9,487.8 694.3,492 695,495.9 695.4,476.2 695.9,498.7 696.4,486.2 697,489.9 697.5,492.5 697.9,471.8 698.3,497.5 698.9,491.7 699.8,492.2 700.2,498.6 700.5,477.6 700.8,500.3 701.6,492.7 702.4,492.6 702.7,478.1 703.1,500 704.1,487.7 704.9,495.8 705.7,497.4 706.1,498.5 707.2,504.1 707.5,477.1 707.9,500.6 708.6,496.3 709.2,491.4 709.5,494.9 709.9,469.5 710.3,500.2 710.9,495.3 711.7,491.2 712,496.6 712.4,465.4 712.9,501.5 713.3,494 714.2,495.2 714.8,472.3 715.2,497.3 715.6,480.2 716.1,494.1 716.8,497.4 717.2,465.5 717.7,454.3 718.3,451.5 718.8,453.9 719.2,503.5 719.7,463.7 720.2,500 720.8,489.3 721.3,498.5 721.8,494.6 722.6,493.6 723.4,499.5 723.7,496.2 724.2,473 724.7,501.2 725.4,496.1 725.9,501.9 726.8,457.5 727.5,453.7 727.9,451.1 728.6,506.3 729.1,463.2 729.6,503 730.4,492.6 730.8,495.2 731.1,475.4 731.8,454.2 732.1,457.3 732.3,453.7 732.9,454.9 733.5,450.3 733.8,456.7 734.6,455.5 735.1,456.8 735.4,451.4 735.9,453.9 736.7,448.7 737.3,450.8 737.8,450.3 738.4,505.4 739.1,496.2 739.7,504.4 740.4,502.1 740.9,505.3 741.4,506.8 741.9,501.8 742.3,501.6 742.8,504.7 743.3,503 743.7,506.2 744.2,501 744.8,505.2 745.3,507.6 745.8,463.2 746.3,457.1 746.7,447.8 747.2,448.8 747.5,445.1 747.8,445.5 748.3,504.8 748.9,493.9 749.6,500.5 750.2,504.6 751.1,509 751.9,501 752.7,500.5 753.4,505.7 753.9,508 754.4,504.8 755,505.2 755.3,478.4 755.8,462.8 755.9,454.4 756.4,451.9 756.9,447.8 757.4,461.4 758,456.7 758.5,452.2 759.1,447.4 759.7,464.3 760.3,460.3 761.1,456.4 761.6,452.7 762.1,446.9 762.6,456.1 763.2,453.2 763.6,455 764.1,451.8 764.8,465.1 765.4,458.9 766,452.1 766.8,450.6 767.3,455.9 767.7,452 768.1,501.9 768.7,500.6 769.2,497.2 769.5,484.7 770.1,507.8 771,505.3 771.8,500.2 772.3,506 773.1,502.9 773.9,501.3 774.3,492.5 774.7,506.9 775.5,504.3 776,503.1 776.6,501.3 777,506.8 777.7,507.3 778.2,499.5 778.8,495 779.3,489.5 779.9,478.9 780.5,486.9 781.1,488.3 781.7,495.2 782.3,496.2 782.9,503.9 783.5,502.9 784,501.4 784.6,501.9 785.1,501.7 785.7,501.9 786.2,503.3 786.8,502.7 787.3,500.2 787.9,502.6 788.4,503.5 789,503.1 789.7,505 790.3,499.4 791,504 791.6,503.6 792.1,505.1 792.7,500.6 793.2,493.9 793.8,499.6 794.4,502.3 794.9,504.5 795.5,499.9 796,513.6 796.6,501.8 797.1,506.3 797.7,504.5 798.3,502.6 798.8,499.8 799.4,504 799.9,502.6 800.5,502.1 801.1,504.5 801.6,502.5 802.2,501.8 802.7,506.6 803.3,502.7 803.8,503.3 804.4,503.9 805,505.7 805.5,500.6 806.1,507.2 806.6,506 807.2,480.5 807.2,506.4 807.8,504 808.3,501.5 808.9,503.4 809.4,505.3 810,505.8 810.5,493.7 811.1,508.5 811.6,502.4 812.2,505.8 812.7,506.3 813.3,505.8 813.8,506.1 814.4,506 815,503 815.5,503 816.1,508.8 816.6,503.4 817.2,504.4 817.7,505.7 818.3,505.7 818.8,504 819.4,501.2 819.9,504 820.5,504.7 821.1,506.2 821.6,502.7 822.2,502.3 822.7,503.2 823.3,501.1 823.8,504.7 824.4,505.9 824.9,516.1 825.5,503.9 826,504.7 826.6,504.5 827.1,504 827.7,507.6 828.3,503.6 828.8,505.8 829.4,504.6 829.9,501.2 830.5,504.7 831,506.3 831.6,502.3 832.1,502.3 832.7,504.7 833.2,508.2 833.8,502.6 834.3,498.1 834.9,504 835.5,504.1 836,502.8 836.6,506 837.1,503.8 837.7,502.8 838.2,506.7 838.8,508.7 839.3,504.3 839.9,513 840.4,502.2 841,500.9 841.6,500.1 842.1,507.9 842.7,506.5 843.2,505 843.8,503 844.3,502.1 844.9,505.8 845.4,502.8 846,504.8 846.5,503.9 847.1,505.9 847.6,506.7 848.2,499"/>
<path d="M254.5 231.1V222.4M254.5 47.4V56M373.4 231.1V222.4M373.4 47.4V56M492.3 231.1V222.4M492.3 47.4V56M611.2 231.1V222.4M611.2 47.4V56M730.1 231.1V222.4M730.1 47.4V56M136.3 178.6H145M848.2 178.6H839.5M136.3 126.1H145M848.2 126.1H839.5M136.3 73.6H145M848.2 73.6H839.5" stroke="#000" stroke-width="3.3" fill="none"/>
<rect x="136.3" y="47.4" width="711.9" height="183.8" fill="none" stroke="#000" stroke-width="3.4"/>
<path d="M254.5 415.2V406.5M254.5 231.1V239.8M373.4 415.2V406.5M373.4 231.1V239.8M492.3 415.2V406.5M492.3 231.1V239.8M611.2 415.2V406.5M611.2 231.1V239.8M730.1 415.2V406.5M730.1 231.1V239.8M136.3 341.6H145M848.2 341.6H839.5M136.3 267.9H145M848.2 267.9H839.5" stroke="#000" stroke-width="3.3" fill="none"/>
<rect x="136.3" y="231.1" width="711.9" height="184.1" fill="none" stroke="#000" stroke-width="3.4"/>
<path d="M254.5 597.6V583.1M254.5 415.2V429.7M373.4 597.6V583.1M373.4 415.2V429.7M492.3 597.6V583.1M492.3 415.2V429.7M611.2 597.6V583.1M611.2 415.2V429.7M730.1 597.6V583.1M730.1 415.2V429.7M136.3 536.8H150.8M848.2 536.8H833.7M136.3 476H150.8M848.2 476H833.7" stroke="#000" stroke-width="3.3" fill="none"/>
<rect x="136.3" y="415.2" width="711.9" height="182.4" fill="none" stroke="#000" stroke-width="3.4"/>
<path d="M136.3 231.1H848.2M136.3 415.2H848.2" stroke="#000" stroke-width="4.5"/>
<rect x="684" y="250" width="105.1" height="298.2" fill="#d6def0" fill-opacity="0.56"/>
<rect x="683" y="249.1" width="106.5" height="300" fill="none" stroke="#0b1433" stroke-width="2"/>
<g stroke="#262626" stroke-opacity="0.15" stroke-width="2.6"><line x1="1184.9" y1="149" x2="1184.9" y2="328.9"/><line x1="1315.5" y1="149" x2="1315.5" y2="328.9"/><line x1="1446" y1="149" x2="1446" y2="328.9"/><line x1="1054.3" y1="267.6" x2="1576.8" y2="267.6"/><line x1="1054.3" y1="206.3" x2="1576.8" y2="206.3"/></g>
<g stroke="#262626" stroke-opacity="0.15" stroke-width="2.6"><line x1="1184.9" y1="328.9" x2="1184.9" y2="508.3"/><line x1="1315.5" y1="328.9" x2="1315.5" y2="508.3"/><line x1="1446" y1="328.9" x2="1446" y2="508.3"/><line x1="1054.3" y1="418.6" x2="1576.8" y2="418.6"/></g>
<polyline fill="none" stroke="#0000ff" stroke-width="3.4" stroke-linejoin="round" points="1054.1,289.9 1059.6,291.8 1067,296 1074.6,293.2 1081.5,296.8 1090.5,279 1097.9,284.2 1106.1,260.9 1113.7,267.2 1121.7,257.6 1129.3,252.2 1137.6,255.5 1145.2,246.7 1153.1,259 1160.8,256.3 1169,234.4 1177.2,249.4 1185.4,265.9 1192.3,268 1199.9,260.4 1207.9,238.5 1216.1,254.9 1222.9,253.5 1231.1,259.8 1239.2,241.8 1247,208.4 1254.6,173.4 1262.8,237.1 1270.5,258.2 1278.4,258.2 1286.1,237.7 1293.7,266.4 1302,181 1309.9,202.9 1317.5,245.3 1325.8,201.6 1333.4,161.3 1340.8,157 1348.2,155 1356.4,159.2 1364.6,246.7 1372.3,283.6 1379.9,281.7 1388.1,289.1 1396.1,291.8 1404.3,232.4 1412.1,179.7 1419.7,259.1 1427.4,287.8 1435,287.8 1442.4,289.2 1450.6,301.5 1458.3,198.9 1466.5,167.4 1473.9,161.4 1481.6,161.4 1489.8,162.4 1497.2,150.4 1505.4,151 1512.8,148.8 1520.4,148.8 1528.7,257.7 1536.3,276.9 1545.1,291.9 1553.3,285.1 1561.5,278.2 1569.2,294.7 1576.6,296"/>
<polyline fill="none" stroke="#ff0000" stroke-width="1.75" stroke-linejoin="round" points="1054.3,463.1 1055.4,462.8 1056.4,463.4 1057.5,463.7 1058.6,465 1059.7,462.7 1060.9,462.9 1062,461.6 1063.1,461.6 1064.2,460 1065.3,460.4 1066.4,459.6 1067.7,460.2 1069,461.2 1070.2,462.6 1071.3,461.4 1072.5,464 1073.5,461.6 1074.6,461.2 1075.6,461.2 1076.7,463.4 1077.7,461.6 1078.8,461.8 1079.8,462.4 1080.9,463.3 1082,465.9 1083.1,464.6 1084.3,463.7 1085.4,462.7 1087.2,454.7 1088.3,455.5 1089.3,454.2 1090.4,454.8 1091.5,454.2 1092.8,455.2 1094,453.8 1095.2,456.3 1096.3,456.8 1097.5,457.1 1098.8,438.4 1100.1,422.3 1101.8,455.7 1103.6,439.9 1104.7,443.3 1105.9,444.4 1107,445.1 1108.3,448.6 1109.6,451.1 1110.9,434.6 1112.2,418.5 1113.5,436.2 1114.8,455.8 1116.5,433.5 1117.8,436.8 1119.1,440.2 1120.3,441.1 1121.4,443.7 1122.6,445.8 1123.9,432.3 1125.2,416.6 1126.5,433.3 1127.8,452 1129.1,441.7 1130.4,433.6 1131.5,434.7 1132.7,434.8 1133.8,437.6 1135.1,439.3 1136.4,442 1137.6,425.7 1138.7,411.6 1139.7,429.7 1140.7,447.3 1141.9,446.2 1143,441.2 1144.2,440.4 1145.2,438.8 1146.3,438.5 1147.3,439.2 1148.4,441 1149.4,441.7 1151.1,448.5 1152.8,418.8 1153.8,435.6 1154.9,453.3 1155.9,448.8 1156.9,446.8 1157.9,443.6 1158.9,442.1 1160,440.5 1161.1,442.4 1162.1,440.6 1163.2,440.4 1164.9,420.2 1166.2,436 1167.5,451.4 1168.5,449.2 1169.6,444 1170.6,442.4 1171.7,438.5 1172.7,435.1 1173.8,437.7 1174.8,439.9 1175.9,443.1 1177,446.1 1178.1,447.9 1179.2,446.1 1180.3,448.8 1181.4,446.8 1182.5,448.2 1183.5,449.2 1184.5,452.5 1185.5,452.8 1186.5,453.9 1187.5,456.7 1188.5,456.3 1189.5,458.4 1190.5,438.7 1191.6,419.5 1192.7,436.8 1193.8,453.7 1195,450.6 1196.1,448.2 1197.3,445.4 1198.4,445.1 1199.6,442.3 1200.7,440.2 1202.5,443.8 1203.6,425.9 1204.7,408.3 1205.8,430.2 1206.8,451.5 1207.9,449.8 1209.1,448.4 1210.2,444 1211.3,442.5 1212.4,441.5 1213.5,441.4 1214.6,440.5 1216.3,446.3 1217.3,423 1218.4,399.9 1219.7,426.9 1221,454.3 1222.1,448.1 1223.2,443.3 1224.2,443.1 1225.3,445.5 1226.3,445 1227.4,443.4 1228.4,446 1229.8,427.1 1231.3,411.5 1232.4,431.3 1233.6,448.9 1234.7,436.7 1235.7,423.7 1236.7,429.7 1237.8,437.6 1238.8,442.7 1239.9,444.4 1241.1,446.4 1242.2,446.8 1243.5,424.5 1244.8,402.3 1246.1,393.8 1247.4,385.1 1248.4,384 1249.5,382.1 1250.5,379.7 1251.5,382.2 1252.5,382.8 1253.5,384.9 1254.6,422 1255.7,457.4 1256.9,428.5 1258.1,399.6 1259.5,425 1260.9,450.8 1262,447 1263.2,442.3 1264.3,436.8 1265.3,441.2 1266.3,446.3 1267.3,450.4 1268.6,447.7 1269.9,444.6 1271,443.8 1272.1,444.2 1273.1,442.3 1274.2,442.8 1275.3,445.9 1276.3,447.9 1277.4,449.8 1278.5,450.9 1280.2,446.2 1281.2,434.7 1282.2,423.7 1283.2,411.5 1284.5,433.5 1285.8,455.4 1287.1,450.7 1288.4,449.4 1289.7,447.2 1291,450.4 1292.3,455.1 1293.3,443.3 1294.4,427.5 1295.4,415.8 1296.5,401.6 1297.5,390.2 1298.7,388.9 1299.8,386 1301,383.1 1302.3,382.3 1303.6,380 1304.7,407.6 1305.9,434.1 1307,461.5 1308,441 1309,419.1 1310,397.7 1311.3,428.7 1312.6,456 1313.7,453.4 1314.8,448.7 1315.8,445.8 1316.9,440.1 1318.2,444.8 1319.5,445.2 1321.2,414.1 1322.4,404.6 1323.5,394.9 1324.7,383.7 1326.4,389.2 1327.3,384 1328.4,385.1 1329.6,384.4 1330.7,384.4 1331.9,382.3 1333,381.7 1334.2,380.2 1335.9,388.6 1337,387.1 1338.1,388 1339.1,386.2 1340.2,385.1 1341.5,386.2 1342.8,389.3 1344.6,381.6 1345.9,382.8 1347.2,384.1 1348.3,382.4 1349.3,379.5 1350.4,379.6 1351.5,376 1352.6,378 1353.8,379.6 1354.9,380.8 1356.2,379.4 1357.5,378.4 1358.7,406.2 1359.8,432.1 1361,461.1 1362,456.3 1363,454.3 1364,449.2 1365,446.1 1366.5,451.8 1367.9,458.3 1369,456.8 1370.1,455.4 1371.1,456.6 1372.2,454.5 1373.3,456.8 1374.5,459.4 1376,460.9 1377.4,461.8 1378.7,458.9 1380,455.4 1381.3,454.2 1382.6,455.4 1383.8,457.6 1385,457.8 1386.4,458.8 1387.8,457.9 1388.9,459.7 1390,460 1391,459.7 1392,456.8 1393,452.8 1394.1,454.8 1395.3,459.5 1396.4,460.6 1397.7,461.3 1399,462.6 1400.3,429.8 1401.6,397.3 1402.9,394.5 1404.2,389 1405.5,381.5 1406.8,376.7 1408.1,377.3 1409.4,376.4 1411.1,372.3 1412.8,372.4 1414.1,416.1 1415.4,459 1416.6,454.4 1417.7,449 1418.9,443.9 1420,445.6 1421.2,450.4 1422.3,453.4 1423.5,455.7 1424.6,456.6 1425.8,459.6 1426.8,460 1427.9,460.6 1428.9,461.9 1430,463 1431,465.4 1432.1,461.1 1433.2,459.3 1434.2,455.3 1435.3,453.3 1436.4,453.3 1437.4,453.4 1438.5,454.3 1439.6,451.9 1440.8,456.6 1441.9,457.8 1443.1,460.4 1444.5,462.4 1446,464.7 1447.3,461.2 1448.6,459.2 1449.8,461 1450.9,458.7 1452.1,460.6 1453.8,420.9 1455.1,407.5 1456.4,397.5 1457.3,384.7 1458.6,383.7 1459.9,380.2 1461.2,379 1462.5,374.7 1463.8,385 1465.1,396.5 1466.2,391.8 1467.4,391.4 1468.5,388.9 1469.8,384.6 1471.1,382.6 1472.3,378.9 1473.4,376.9 1474.6,374.8 1475.7,383.8 1476.9,390.6 1478,399.5 1479.2,397.5 1480.3,395.9 1481.5,394.6 1482.6,391.6 1483.7,391.6 1484.7,388.9 1485.8,387.6 1487.1,384.4 1488.4,382.5 1489.7,379.5 1491,374.2 1492.3,381.5 1493.6,387.1 1494.7,385.7 1495.9,384.2 1497,383.5 1498.3,385 1499.6,386.7 1500.9,382 1502.2,381.3 1503.4,388.4 1504.5,394.1 1505.7,399.3 1506.8,396.9 1508,392.9 1509.1,390.2 1510.3,389.1 1511.4,385.1 1512.6,382 1513.7,381.8 1514.8,381.4 1515.8,380 1516.9,379.3 1518.2,383.7 1519.5,388.1 1520.8,384.9 1522.1,382.1 1523.8,454.3 1525,455 1526.1,453.8 1527.3,454 1528.6,449.6 1529.9,447.2 1530.9,437.8 1531.9,430.8 1532.9,442.4 1534,452.9 1535,463.3 1536,463.9 1537.1,463.1 1538.1,461.8 1539.2,460.2 1540.2,459.6 1541.3,458.1 1542.3,455.8 1543.4,454.2 1544.5,452.9 1545.8,458 1547.1,459.9 1548.2,460.2 1549.3,457.7 1550.4,456.8 1551.5,457.7 1552.6,456.4 1553.7,456.7 1554.7,454.7 1555.8,452.8 1556.8,447.4 1557.9,441.5 1559,453.2 1560.1,464.1 1561.2,461.7 1562.2,460.4 1563.3,458.5 1564.4,458.9 1565.4,457 1566.4,456.1 1567.5,455 1568.5,454.2 1569.5,455.4 1570.5,453.1 1571.8,459.4 1573.1,460.8 1574.2,463.3 1575.4,461.5 1576.5,461.4"/>
<path d="M1184.9 328.9V321.7M1184.9 149V156.2M1315.5 328.9V321.7M1315.5 149V156.2M1446 328.9V321.7M1446 149V156.2M1054.3 267.6H1061.5M1576.8 267.6H1569.6M1054.3 206.3H1061.5M1576.8 206.3H1569.6" stroke="#000" stroke-width="3.3" fill="none"/>
<rect x="1054.3" y="149" width="522.5" height="179.9" fill="none" stroke="#000" stroke-width="3.4"/>
<path d="M1184.9 508.3V496.3M1184.9 328.9V340.9M1315.5 508.3V496.3M1315.5 328.9V340.9M1446 508.3V496.3M1446 328.9V340.9M1054.3 418.6H1066.3M1576.8 418.6H1564.8" stroke="#000" stroke-width="3.3" fill="none"/>
<rect x="1054.3" y="328.9" width="522.5" height="179.4" fill="none" stroke="#000" stroke-width="3.4"/>
<path d="M1054.3 328.9H1576.8" stroke="#000" stroke-width="4.5"/>
<line x1="789.6" y1="326.5" x2="905.7" y2="289.2" stroke="#2f5597" stroke-width="1.9"/>
<polygon fill="#4472c4" stroke="#2f5597" stroke-width="0.8" stroke-linejoin="round" points="914.3,286.4 905.5,294.8 902.2,284.7"/>
<line x1="789.7" y1="458.8" x2="913" y2="508.8" stroke="#2f5597" stroke-width="1.9"/>
<polygon fill="#4472c4" stroke="#2f5597" stroke-width="0.8" stroke-linejoin="round" points="921.3,512.2 909.1,513 913.1,503.2"/>
<text x="849.9" y="40.8" font-size="30.5" text-anchor="end">EAST shot #120598</text>
<text x="126.3" y="189.8" font-size="27.5" text-anchor="end">100</text>
<text x="126.3" y="137.3" font-size="27.5" text-anchor="end">200</text>
<text x="126.3" y="84.8" font-size="27.5" text-anchor="end">300</text>
<text x="126.3" y="426.4" font-size="27.5" text-anchor="end">0</text>
<text x="126.3" y="352.8" font-size="27.5" text-anchor="end">2</text>
<text x="126.3" y="279.1" font-size="27.5" text-anchor="end">4</text>
<text x="126.3" y="608.8" font-size="27.5" text-anchor="end">0</text>
<text x="126.3" y="548" font-size="27.5" text-anchor="end">0.5</text>
<text x="126.3" y="487.2" font-size="27.5" text-anchor="end">1</text>
<text x="135.6" y="635.6" font-size="27.5" text-anchor="middle">0</text>
<text x="254.5" y="635.6" font-size="27.5" text-anchor="middle">5</text>
<text x="373.4" y="635.6" font-size="27.5" text-anchor="middle">10</text>
<text x="492.3" y="635.6" font-size="27.5" text-anchor="middle">15</text>
<text x="611.2" y="635.6" font-size="27.5" text-anchor="middle">20</text>
<text x="730.1" y="635.6" font-size="27.5" text-anchor="middle">25</text>
<text x="849" y="635.6" font-size="27.5" text-anchor="middle">30</text>
<text x="492.4" y="675.5" font-size="30.5" text-anchor="middle" class="th">time (s)</text>
<text x="835.8" y="207.2" font-size="27" text-anchor="end">(a)</text>
<text x="836.5" y="392" font-size="27" text-anchor="end">(b)</text>
<text x="835.3" y="574.8" font-size="27" text-anchor="end">(c)</text>
<line x1="661" y1="131.2" x2="713.5" y2="131.2" stroke="#000" stroke-width="5"/>
<text x="716" y="143.6" font-size="31.8" text-anchor="start">Ip(kA)</text>
<line x1="195" y1="342.7" x2="246" y2="342.7" stroke="#0000ff" stroke-width="4"/>
<text x="250.5" y="354.9" font-size="31" text-anchor="start">DI</text>
<line x1="191" y1="457.9" x2="243.6" y2="457.9" stroke="#e0282a" stroke-width="2"/>
<text x="247.2" y="474.2" font-size="31" text-anchor="start">C</text>
<text x="270.8" y="458" font-size="24.5" text-anchor="start">5+</text>
<text transform="translate(66.2 138.5) rotate(-90)" font-size="30.5" text-anchor="middle">Ip (kA)</text>
<text transform="translate(55.8 419.9) rotate(-90)" font-size="29.5">n</text>
<text transform="translate(70.4 401) rotate(-90)" font-size="24">e</text>
<text transform="translate(55.8 377.7) rotate(-90)" font-size="29.5">(10</text>
<text transform="translate(41.9 331.8) rotate(-90)" font-size="24">19</text>
<text transform="translate(55.8 294.9) rotate(-90)" font-size="29.5">m</text>
<text transform="translate(41.9 266.7) rotate(-90)" font-size="24">-3</text>
<text transform="translate(55.8 243.4) rotate(-90)" font-size="29.5">)</text>
<text transform="translate(72.2 507) rotate(-90)" font-size="30.5" text-anchor="middle">(a.u.)</text>
<text x="1043.3" y="279.9" font-size="26.5" text-anchor="end">3.5</text>
<text x="1043.3" y="218.6" font-size="26.5" text-anchor="end">4</text>
<text x="1043.3" y="520.6" font-size="26.5" text-anchor="end">0</text>
<text x="1043.3" y="430.9" font-size="26.5" text-anchor="end">0.5</text>
<text x="1043.3" y="341.2" font-size="26.5" text-anchor="end">1</text>
<text x="1053.3" y="546.2" font-size="26.5" text-anchor="middle">23</text>
<text x="1183.8" y="546.2" font-size="26.5" text-anchor="middle">24</text>
<text x="1314.4" y="546.2" font-size="26.5" text-anchor="middle">25</text>
<text x="1444.9" y="546.2" font-size="26.5" text-anchor="middle">26</text>
<text x="1575.4" y="546.2" font-size="26.5" text-anchor="middle">27</text>
<text x="1315.5" y="584.3" font-size="30.5" text-anchor="middle" class="th">time (s)</text>
<text x="1068" y="187" font-size="27" text-anchor="start" class="th">(d)</text>
<text x="1067" y="366" font-size="27" text-anchor="start" class="th">(e)</text>
<text class="th" transform="translate(992 324.2) rotate(-90)" font-size="29.5">ne</text>
<text class="th" transform="translate(992 280.1) rotate(-90)" font-size="29.5">(10</text>
<text class="th" transform="translate(978 237) rotate(-90)" font-size="24">19</text>
<text class="th" transform="translate(992 200.8) rotate(-90)" font-size="29.5">m</text>
<text class="th" transform="translate(978 173.3) rotate(-90)" font-size="24">-3</text>
<text class="th" transform="translate(992 149.4) rotate(-90)" font-size="29.5">)</text>
<text transform="translate(992.8 419.4) rotate(-90)" font-size="30.5" text-anchor="middle" class="th">(a.u.)</text>
</svg>
</body></html>
